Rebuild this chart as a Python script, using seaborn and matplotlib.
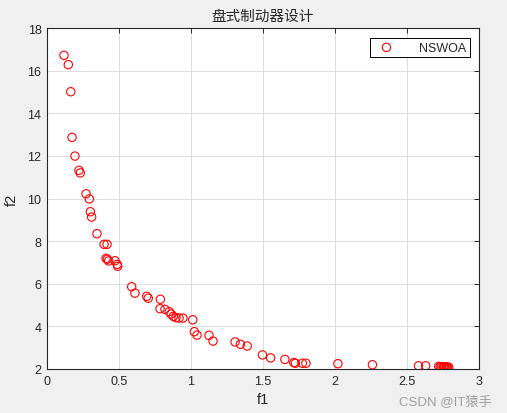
import pandas as pd
import matplotlib.pyplot as plt
import seaborn as sns

# Pareto front
f1 = [0.118, 0.148, 0.165, 0.174, 0.194, 0.222, 0.231, 0.271, 0.294, 0.301,
      0.310, 0.347, 0.396, 0.417, 0.410, 0.419, 0.428, 0.472, 0.488, 0.491,
      0.588, 0.611, 0.692, 0.703, 0.787, 0.785, 0.819, 0.849, 0.861, 0.877,
      0.896, 0.917, 0.944, 1.012, 1.023, 1.042, 1.125, 1.153,
      1.306, 1.343, 1.390, 1.496, 1.553, 1.652, 1.714, 1.725, 1.773, 1.798,
      2.020, 2.260, 2.580, 2.630,
      2.720, 2.730, 2.740, 2.750, 2.755, 2.760, 2.770, 2.775, 2.780, 2.790]
f2 = [16.72, 16.28, 15.01, 12.87, 11.99, 11.32, 11.20, 10.22, 9.98, 9.38,
      9.13, 8.35, 7.85, 7.85, 7.19, 7.15, 7.07, 7.08, 6.91, 6.82,
      5.86, 5.56, 5.41, 5.32, 5.27, 4.83, 4.80, 4.69, 4.58, 4.47,
      4.41, 4.39, 4.39, 4.31, 3.75, 3.59, 3.58, 3.31,
      3.27, 3.16, 3.08, 2.66, 2.52, 2.45, 2.30, 2.27, 2.27, 2.27,
      2.25, 2.20, 2.15, 2.15,
      2.12, 2.11, 2.11, 2.10, 2.10, 2.10, 2.09, 2.09, 2.09, 2.08]

df = pd.DataFrame({'f1': f1, 'f2': f2})

sns.set_style('white')
plt.rcParams['font.family'] = ['Liberation Sans', 'Noto Sans CJK SC', 'DejaVu Sans']

fig = plt.figure(figsize=(5.07, 4.14), dpi=100, facecolor='#f0f0f0')
ax = fig.add_axes([47 / 507, 1 - 370 / 414, 432 / 507, 341 / 414])

sns.scatterplot(data=df, x='f1', y='f2', ax=ax, marker='o', s=36,
                facecolor='none', edgecolor='red', linewidth=0.8,
                label='NSWOA', zorder=3)

ax.set_xlim(0, 3)
ax.set_ylim(2, 18)
ax.set_xticks([0, 0.5, 1, 1.5, 2, 2.5, 3])
ax.set_xticklabels(['0', '0.5', '1', '1.5', '2', '2.5', '3'])
ax.set_yticks(range(2, 19, 2))
ax.grid(True, color='#dcdcdc', linewidth=0.7)
ax.set_axisbelow(True)
for sp in ax.spines.values():
    sp.set_color('#262626')
    sp.set_linewidth(0.8)
ax.tick_params(direction='in', length=3.5, width=0.7, colors='#262626',
               labelsize=9, top=True, right=True, pad=4)

ax.set_title('盘式制动器设计', fontsize=10.5, color='#262626', pad=6)
ax.set_xlabel('f1', fontsize=10.5, color='#262626', labelpad=4)
ax.set_ylabel('f2', fontsize=10.5, color='#262626', labelpad=6)

leg = ax.legend(loc='upper right', fontsize=9, frameon=True, fancybox=False,
                edgecolor='black', framealpha=1, borderpad=0.3,
                handletextpad=1.6, borderaxespad=0,
                bbox_to_anchor=(0.979, 0.971))
leg.get_frame().set_linewidth(0.7)

fig.text(0.97, 0.015, 'CSDN @IT猿手', ha='right', va='bottom',
         fontsize=9.5, color='#a0a0a0')

plt.savefig('out.png', dpi=100, facecolor=fig.get_facecolor())
